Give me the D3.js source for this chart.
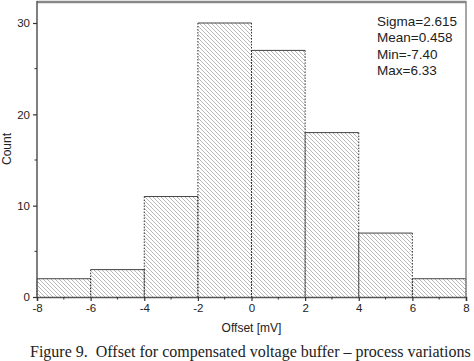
<!DOCTYPE html>
<html><head><meta charset="utf-8">
<script src="https://cdn.jsdelivr.net/npm/d3@7"></script>
<style>body{margin:0;background:#fff}svg{display:block}</style>
</head><body>
<script>
const binStarts = [-8, -6, -4, -2, 0, 2, 4, 6];
const binWidth = 2;
const counts = [2, 3, 11, 30, 27, 18, 7, 2];
const xTicks = [-8, -6, -4, -2, 0, 2, 4, 6, 8];
const yTicks = [0, 10, 20, 30];
const stats = ["Sigma=2.615", "Mean=0.458", "Min=-7.40", "Max=6.33"];
const caption = "Figure 9.\u00a0 Offset for compensated voltage buffer \u2013 process variations";

const W = 474, H = 361;
const svg = d3.select("body").append("svg").attr("width", W).attr("height", H);
const defs = svg.append("defs");
const pat = defs.append("pattern").attr("id", "hatch").attr("patternUnits", "userSpaceOnUse")
  .attr("width", 4).attr("height", 4);
pat.append("path").attr("d", "M-1,-1 L5,5 M-1,3 L1,5 M3,-1 L5,1")
  .attr("stroke", "#999").attr("stroke-width", 0.7);

const L = 37, R = 466, T = 1, B = 297;
const x = d3.scaleLinear().domain([-8, 8]).range([L, R]);
const y = d3.scaleLinear().domain([0, 30]).range([B, 23]);
const font = "Liberation Sans, Arial, sans-serif";

// bars
svg.append("g").selectAll("rect").data(counts).join("rect")
  .attr("x", (d, i) => x(binStarts[i]))
  .attr("width", (d, i) => x(binStarts[i] + binWidth) - x(binStarts[i]))
  .attr("y", d => y(d))
  .attr("height", d => y(0) - y(d))
  .attr("fill", "url(#hatch)");
// bar edges (dotted verticals, solid tops)
const edges = svg.append("g");
counts.forEach((d, i) => {
  const x0 = x(binStarts[i]), x1 = x(binStarts[i] + binWidth);
  edges.append("line").attr("x1", x0).attr("x2", x1).attr("y1", y(d)).attr("y2", y(d))
    .attr("stroke", "#444").attr("stroke-width", 1);
  [x0, x1].forEach(xx => edges.append("line").attr("x1", xx).attr("x2", xx)
    .attr("y1", y(d)).attr("y2", y(0)).attr("stroke", "#333").attr("stroke-width", 1)
    .attr("stroke-dasharray", "1.5,1.5"));
});

// frame
svg.append("line").attr("x1", L).attr("x2", R).attr("y1", T + 1).attr("y2", T + 1).attr("stroke", "#888").attr("stroke-width", 2.5);
svg.append("line").attr("x1", R).attr("x2", R).attr("y1", T).attr("y2", B).attr("stroke", "#888").attr("stroke-width", 1.5);

// axes
const fmt = d => String(d);
const xAxis = d3.axisBottom(x).tickValues(xTicks).tickSize(4).tickPadding(3).tickFormat(fmt);
const gx = svg.append("g").attr("transform", `translate(0,${B})`).call(xAxis);
const yAxis = d3.axisLeft(y).tickValues(yTicks).tickSize(4).tickPadding(3).tickFormat(fmt);
const gy = svg.append("g").attr("transform", `translate(${L},0)`).call(yAxis);
[gx, gy].forEach(g => {
  g.select(".domain").attr("stroke", "#555").attr("stroke-width", 1.5);
  g.selectAll(".tick line").attr("stroke", "#333").attr("stroke-width", 1.2);
  g.selectAll("text").attr("font-family", font).attr("font-size", 11.5).attr("fill", "#222");
});
gy.select(".domain").attr("d", `M0,${B}V${T}`);
// minor ticks
const xMinor = d3.range(-7, 8, 2);
svg.append("g").selectAll("line").data(xMinor).join("line")
  .attr("x1", d => x(d)).attr("x2", d => x(d)).attr("y1", B).attr("y2", B + 2.5)
  .attr("stroke", "#333");
const yMinor = [5, 15, 25];
svg.append("g").selectAll("line").data(yMinor).join("line")
  .attr("x1", L - 2.5).attr("x2", L).attr("y1", d => y(d)).attr("y2", d => y(d))
  .attr("stroke", "#333");

// axis titles
svg.append("text").attr("x", x(0)).attr("y", 332).attr("text-anchor", "middle")
  .attr("font-family", font).attr("font-size", 12).attr("fill", "#222")
  .text("Offset [mV]");
svg.append("text").attr("transform", `translate(11,${(T + B) / 2}) rotate(-90)`).attr("text-anchor", "middle")
  .attr("font-family", font).attr("font-size", 12).attr("fill", "#222")
  .text("Count");

// stats
svg.append("g").selectAll("text").data(stats).join("text")
  .attr("x", 377).attr("y", (d, i) => 26 + i * 16.3)
  .attr("font-family", font).attr("font-size", 13.5).attr("fill", "#222")
  .text(d => d);

// caption
svg.append("text").attr("x", 30).attr("y", 357)
  .attr("font-family", "Liberation Serif, Times New Roman, serif").attr("font-size", 16).attr("fill", "#222")
  .text(caption);
</script>
</body></html>
